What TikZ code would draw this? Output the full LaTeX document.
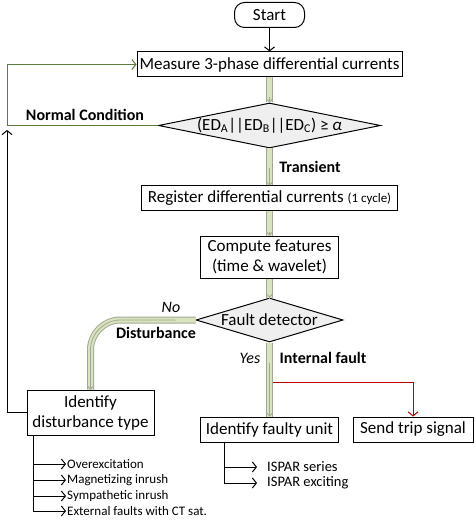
\documentclass[tikz,border=0pt]{standalone}
\usepackage{fontspec}
\setmainfont{Carlito}
\usetikzlibrary{shapes.geometric,arrows.meta}
\definecolor{flowfill}{HTML}{D7E4BD}
\definecolor{flowedge}{HTML}{A3A896}
\definecolor{loopgreen}{HTML}{5E7B3E}
\definecolor{tripred}{HTML}{C00000}
\definecolor{decfill}{HTML}{EFEFEF}
\tikzset{
  mainfont/.style={font=\fontsize{17}{20}\selectfont},
  box/.style={draw, line width=1pt, fill=white, inner sep=2pt, mainfont},
  decision/.style={draw, line width=1pt, diamond, fill=decfill, inner sep=0pt},
  flow/.style={draw=flowedge, line width=7pt,
    postaction={draw=flowfill, line width=5pt},
    postaction={draw=flowedge, line width=0.8pt, -{Straight Barb[length=3pt,width=6pt]}, shorten <=20pt}},
  tag/.style={font=\fontsize{16}{18}\selectfont\bfseries},
  answer/.style={font=\fontsize{16}{18}\selectfont\itshape},
  kind/.style={anchor=west, inner sep=1pt, font=\fontsize{13}{15}\selectfont},
  unit/.style={anchor=west, inner sep=0pt, font=\fontsize{14.5}{16}\selectfont},
  >={Straight Barb[length=4pt,width=10pt]}
}
\begin{document}
\begin{tikzpicture}[x=1pt,y=-1pt]
\useasboundingbox (0,0) rectangle (474,526);
% main chain
\node[box, rounded corners=10pt, minimum width=70pt, minimum height=25pt] (start) at (269.5,15) {Start};
\node[box, minimum width=265pt, minimum height=25pt] (measure) at (269.5,64.5) {Measure 3-phase differential currents};
\node[decision, minimum width=222pt, minimum height=45pt,
  label={[mainfont]center:(ED\textsubscript{A}||ED\textsubscript{B}||ED\textsubscript{C}) ≥ \textit{α}}] (cond) at (269.5,125.5) {};
\node[box, minimum width=256pt, minimum height=25pt] (register) at (269.5,198.5)
  {Register differential currents {\fontsize{13}{15}\selectfont(1 cycle)}};
\node[box, minimum width=138pt, minimum height=42pt, align=center] (compute) at (269.5,257)
  {Compute features\\(time \& wavelet)};
\node[decision, minimum width=147pt, minimum height=44pt,
  label={[mainfont]center:Fault detector}] (fd) at (269.5,320) {};
\node[box, minimum width=138pt, minimum height=25pt] (faulty) at (269.5,429.5) {Identify faulty unit};
\node[box, minimum width=120pt, minimum height=25pt] (trip) at (413,429.5) {Send trip signal};
\node[box, minimum width=127pt, minimum height=45pt, align=center] (dist) at (90.5,412.5)
  {Identify\\disturbance type};
% labels
\node[tag] (normal) at (85,115) {Normal Condition};
\node[tag] (transient) at (310,167) {Transient};
\node[answer] (no) at (171,307) {No};
\node[tag] (disturb) at (156,333) {Disturbance};
\node[answer] (yes) at (250,358) {Yes};
\node[tag] (internal) at (323,358) {Internal fault};
% thick flow arrows
\draw[flow] (measure) -- (cond);
\draw[flow] (cond) -- (register);
\draw[flow] (register) -- (compute);
\draw[flow] (compute) -- (fd);
\draw[flow] (fd.south) -- (faulty.north);
\draw[flow, rounded corners=30pt] (fd.west) -| (dist.north);
% thin connectors
\coordinate (loop) at (7,64.5);
\coordinate (back) at (7,130);
\coordinate (split) at (273,382);
\draw[line width=1pt, ->] (start) -- (measure);
\draw[loopgreen, line width=1pt, ->] (cond.west) -| (loop) -- (measure.west);
\draw[line width=1pt, ->] (dist.west) -| (back);
\draw[tripred, line width=1pt, ->] (split) -| (trip.north);
% disturbance types
\node[kind] (ov) at (66,464) {Overexcitation};
\node[kind] (mi) at (66,480) {Magnetizing inrush};
\node[kind] (si) at (66,496) {Sympathetic inrush};
\node[kind] (ef) at (66,511) {External faults with CT sat.};
\coordinate (dtrunk) at (33,435);
\foreach \n in {ov,mi,si,ef}
  \draw[line width=1pt, ->] (dtrunk) |- (\n.west);
% faulty units
\node[unit] (ser) at (267,467) {ISPAR series};
\node[unit] (exc) at (267,483) {ISPAR exciting};
\coordinate (ftrunk) at (224,442);
\foreach \n in {ser,exc}
  \draw[line width=1pt, ->] (ftrunk) |- ([xshift=-10pt]\n.west);
\end{tikzpicture}
\end{document}
